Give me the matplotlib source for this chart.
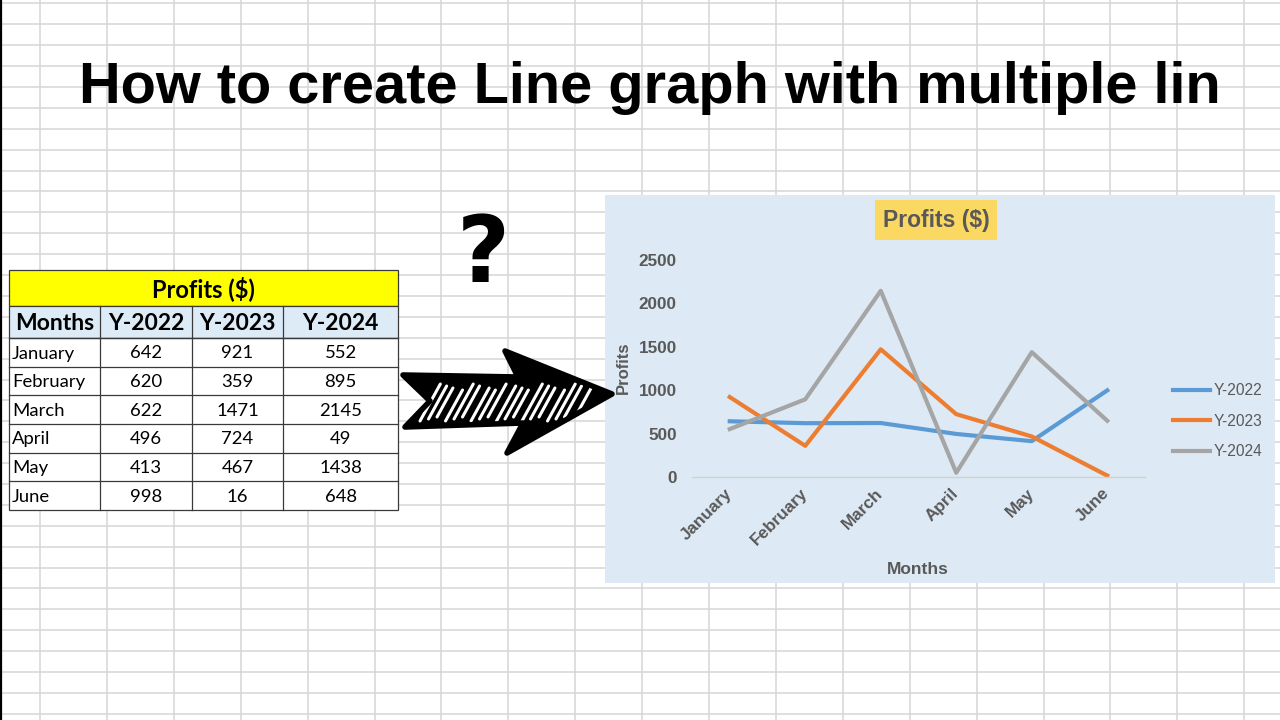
import numpy as np
import matplotlib.pyplot as plt
from matplotlib.patches import Rectangle, Polygon

# data (table + chart share these)
months = ["January", "February", "March", "April", "May", "June"]
y2022 = [642, 620, 622, 496, 413, 998]
y2023 = [921, 359, 1471, 724, 467, 16]
y2024 = [552, 895, 2145, 49, 1438, 648]
series_names = ["Y-2022", "Y-2023", "Y-2024"]
series_colors = ["#5b9bd5", "#ed7d31", "#a5a5a5"]

title_text = "How to create Line graph with multiple lin"
table_title = "Profits ($)"
chart_title = "Profits ($)"

W, H = 1280, 720
fig = plt.figure(figsize=(12.8, 7.2), dpi=100)
fig.patch.set_facecolor("white")

# background "sheet" axes in pixel coords
bg = fig.add_axes([0, 0, 1, 1])
bg.set_xlim(0, W)
bg.set_ylim(H, 0)
bg.axis("off")

# spreadsheet grid
for gx in np.arange(40, W, 66.9):
    bg.axvline(gx, color="#d6d6d6", lw=1.1, zorder=0)
for gy in np.arange(3.3, H, 20.9):
    bg.axhline(gy, color="#d6d6d6", lw=1.1, zorder=0)
bg.axvline(0.8, color="black", lw=1.6, zorder=1)

# big title
bg.text(79, 102.7, title_text, ha="left", va="baseline", fontsize=41.6,
        fontweight="bold", family="Liberation Sans", color="black", zorder=5)

# ---- table ----
col_edges = [9, 100, 191.7, 283.3, 398]
row_edges = [270, 305.7, 338.3, 366.7, 395, 424, 452.7, 481, 510]
tfont = "Lato"
bcol = "#3a3a3a"

bg.add_patch(Rectangle((col_edges[0], row_edges[0]), col_edges[-1] - col_edges[0],
                       row_edges[1] - row_edges[0], facecolor="#ffff00", edgecolor=bcol, lw=0.9, zorder=2))
bg.add_patch(Rectangle((col_edges[0], row_edges[1]), col_edges[-1] - col_edges[0],
                       row_edges[2] - row_edges[1], facecolor="#ddebf7", edgecolor=bcol, lw=0.9, zorder=2))
bg.add_patch(Rectangle((col_edges[0], row_edges[2]), col_edges[-1] - col_edges[0],
                       row_edges[-1] - row_edges[2], facecolor="white", edgecolor=bcol, lw=0.9, zorder=2))
for cx in col_edges[1:-1]:
    bg.plot([cx, cx], [row_edges[1], row_edges[-1]], color=bcol, lw=0.9, zorder=3)
for ry in row_edges[2:-1]:
    bg.plot([col_edges[0], col_edges[-1]], [ry, ry], color=bcol, lw=0.9, zorder=3)

bg.text((col_edges[0] + col_edges[-1]) / 2, (row_edges[0] + row_edges[1]) / 2 + 1, table_title,
        ha="center", va="center", fontsize=17, fontweight="bold", family=tfont, zorder=4)
headers = ["Months"] + series_names
for i, h in enumerate(headers):
    cx = (col_edges[i] + col_edges[i + 1]) / 2
    bg.text(cx, (row_edges[1] + row_edges[2]) / 2 + 1, h, ha="center", va="center",
            fontsize=16.5, fontweight="bold", family=tfont, zorder=4)
for r, m in enumerate(months):
    cy = (row_edges[r + 2] + row_edges[r + 3]) / 2 + 1
    bg.text(12, cy, m, ha="left", va="center", fontsize=13.3, family=tfont, zorder=4)
    for c, vals in enumerate([y2022, y2023, y2024]):
        cx = (col_edges[c + 1] + col_edges[c + 2]) / 2
        bg.text(cx, cy, str(vals[r]), ha="center", va="center", fontsize=13.3,
                family=tfont, zorder=4)

# ---- question mark ----
bg.text(483, 282, "?", ha="center", va="baseline", fontsize=66, fontweight="heavy",
        family="DejaVu Sans", color="black", zorder=5)

# ---- hand drawn arrow ----
arrow_pts = [(403, 375), (518, 377), (505, 351), (612, 394), (507, 453),
             (523, 423), (405, 427), (430, 401)]
arrow = Polygon(arrow_pts, closed=True, facecolor="black", edgecolor="black", lw=1, zorder=5)
bg.add_patch(arrow)
# white scribble hatching (decoration)
for k, sx in enumerate(np.arange(420, 575, 8.5)):
    y0 = 421 - (k % 3) * 2
    y1 = 384 + (k % 4) * 2
    ln, = bg.plot([sx, sx + 0.55 * (y0 - y1)], [y0, y1], color="white", lw=2.2,
                  solid_capstyle="round", zorder=6)
    ln.set_clip_path(arrow)
# keep a black rim round the shaft
bg.add_patch(Polygon(arrow_pts, closed=True, facecolor="none", edgecolor="black", lw=4,
                     joinstyle="round", zorder=7))

# ---- chart panel ----
bg.add_patch(Rectangle((605, 195), 670, 388, facecolor="#dde9f4", edgecolor="none", zorder=2))
bg.add_patch(Rectangle((875, 200), 122, 40, facecolor="#fbd862", edgecolor="none", zorder=3))
bg.text(936, 221, chart_title, ha="center", va="center", fontsize=16.5, fontweight="bold",
        family="Liberation Sans", color="#595959", zorder=4)

ax = fig.add_axes([692 / W, (H - 477) / H, 453 / W, 217 / H])
ax.patch.set_alpha(0)
x = np.arange(len(months))
for vals, name, col in zip([y2022, y2023, y2024], series_names, series_colors):
    ax.plot(x, vals, color=col, lw=3.0, label=name)

ax.set_xlim(-0.5, len(months) - 0.5)
ax.set_ylim(0, 2500)
ax.set_yticks(np.arange(0, 2501, 500))
ax.set_xticks(x)
ax.set_xticklabels(months, rotation=45, ha="right", va="center", rotation_mode="anchor")
for s in ["top", "right", "left"]:
    ax.spines[s].set_visible(False)
ax.spines["bottom"].set_color("#d0d0d0")
ax.spines["bottom"].set_linewidth(1.0)
ax.tick_params(axis="both", length=0, labelcolor="#595959", labelsize=12.3)
ax.tick_params(axis="y", pad=11)
ax.tick_params(axis="x", pad=10)
for lab in ax.get_xticklabels() + ax.get_yticklabels():
    lab.set_fontweight("bold")
    lab.set_family("Liberation Sans")

ax.set_xlabel("Months", fontsize=12.5, fontweight="bold", color="#595959", family="Liberation Sans")
ax.xaxis.set_label_coords((918 - 692) / 453, (477 - 562) / 217)
ax.set_ylabel("Profits", fontsize=12, fontweight="bold", color="#595959", family="Liberation Sans")
ax.yaxis.set_label_coords((631 - 692) / 453, (477 - 368) / 217)

leg = ax.legend(loc="center left", bbox_to_anchor=(1173 / W, (H - 421) / H),
                bbox_transform=fig.transFigure, frameon=False,
                handlelength=2.4, handletextpad=0.2, labelspacing=1.0,
                borderpad=0, borderaxespad=0,
                prop={"family": "Liberation Sans", "size": 11.2})
for t in leg.get_texts():
    t.set_color("#595959")

fig.savefig("out.png", dpi=100)
